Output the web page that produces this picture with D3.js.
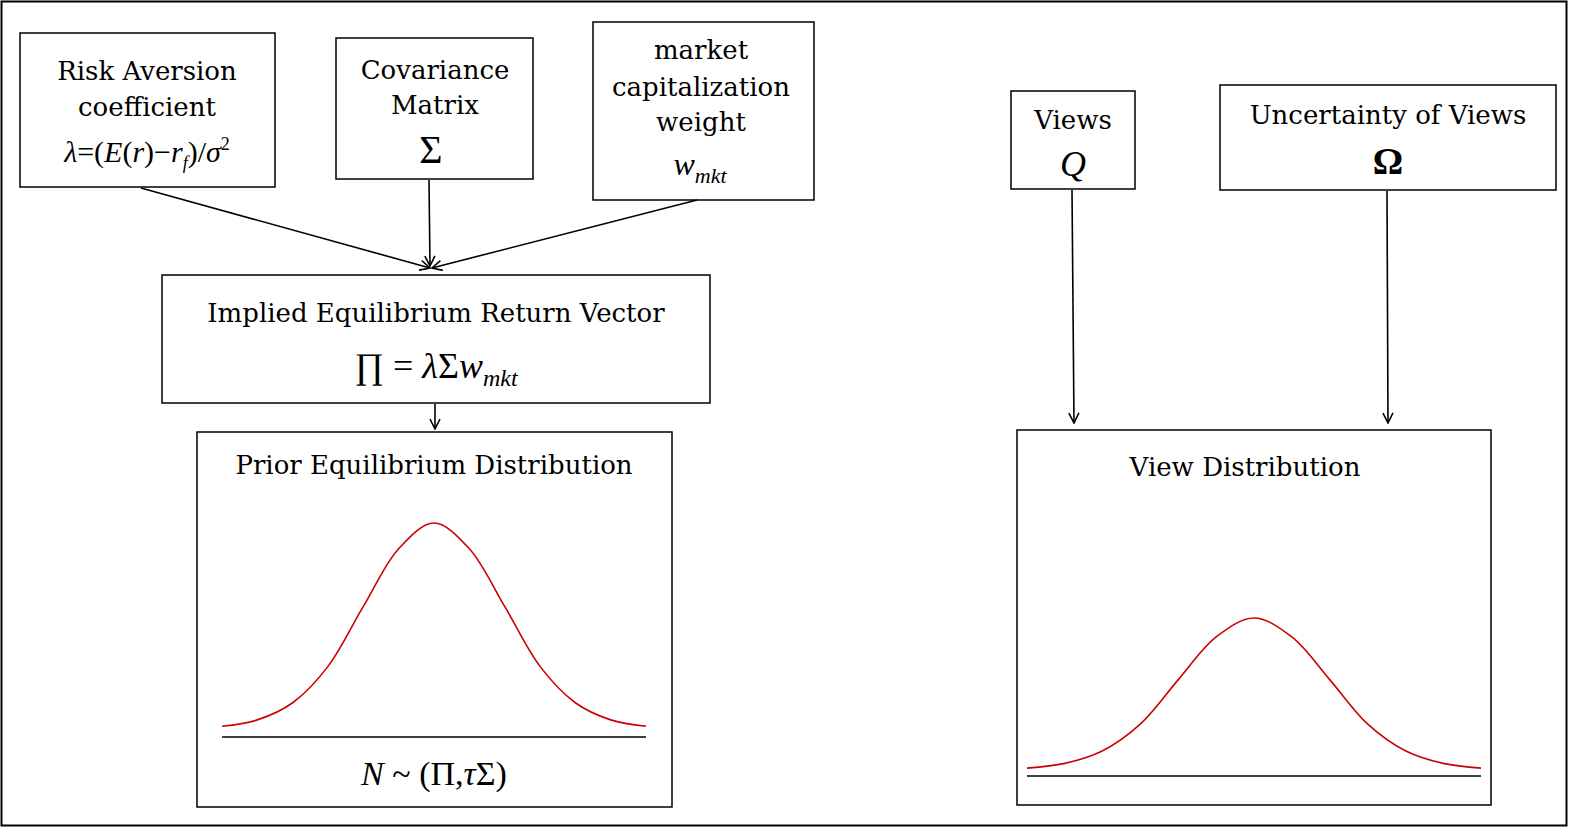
<!DOCTYPE html>
<html><head><meta charset="utf-8">
<script src="https://cdn.jsdelivr.net/npm/d3@7"></script>
<style>body{margin:0;background:#fff}</style>
</head><body>
<svg id="c" width="1573" height="829"></svg>
<script>
// boxes: [x, y, w, h]
const boxes = [
  [20, 33, 255, 154], [336, 38, 197, 141], [593, 22, 221, 178],
  [162, 275, 548, 128], [197, 432, 475, 375],
  [1011, 91, 124, 98], [1220, 85, 336, 105], [1017, 430, 474, 375]
];
const labels = [
  ["Risk Aversion", 147, 80], ["coefficient", 147, 116],
  ["Covariance", 435, 79], ["Matrix", 435, 114],
  ["market", 701, 59], ["capitalization", 701, 96], ["weight", 701, 131],
  ["Implied Equilibrium Return Vector", 436, 322],
  ["Prior Equilibrium Distribution", 434, 474],
  ["Views", 1073, 129], ["Uncertainty of Views", 1388, 124],
  ["View Distribution", 1245, 476]
];
const arrows = [
  [141, 188, 430, 268], [429, 180, 430, 266], [697, 200, 432, 268],
  [435, 404, 435, 429], [1072, 190, 1074, 423], [1387, 191, 1388, 423]
];
// bell shape heights (fraction of peak), read at evenly spaced points
const bell = [0.05, 0.08, 0.16, 0.33, 0.61, 0.88, 1, 0.88, 0.61, 0.33, 0.16, 0.08, 0.05];
// curves: x0, x1, baseline y, peak height, axis x0, x1
const curves = [[222, 646, 737, 214, 222, 646], [1027, 1481, 776, 158, 1027, 1481]];

const svg = d3.select("#c");
svg.append("rect").attr("x", 1.5).attr("y", 1.5).attr("width", 1565).attr("height", 824)
  .attr("fill", "none").attr("stroke", "#000").attr("stroke-width", 2);

svg.selectAll("rect.box").data(boxes).join("rect").attr("class", "box")
  .attr("x", d => d[0]).attr("y", d => d[1]).attr("width", d => d[2]).attr("height", d => d[3])
  .attr("fill", "none").attr("stroke", "#000").attr("stroke-width", 1.5);

svg.selectAll("text.lbl").data(labels).join("text").attr("class", "lbl")
  .attr("x", d => d[1]).attr("y", d => d[2]).attr("text-anchor", "middle")
  .attr("font-family", "DejaVu Serif").attr("font-size", 26).text(d => d[0]);

// arrows
svg.append("defs").append("marker").attr("id", "ah").attr("viewBox", "0 0 12 12")
  .attr("refX", 11).attr("refY", 6).attr("markerWidth", 12).attr("markerHeight", 12)
  .attr("markerUnits", "userSpaceOnUse").attr("orient", "auto")
  .append("path").attr("d", "M1,1L11,6L1,11").attr("fill", "none").attr("stroke", "#000").attr("stroke-width", 1.6);
svg.selectAll("line.ar").data(arrows).join("line").attr("class", "ar")
  .attr("x1", d => d[0]).attr("y1", d => d[1]).attr("x2", d => d[2]).attr("y2", d => d[3])
  .attr("stroke", "#000").attr("stroke-width", 1.6).attr("marker-end", "url(#ah)");

// curves
curves.forEach(c => {
  const x = d3.scaleLinear().domain([0, bell.length - 1]).range([c[0], c[1]]);
  const y = d3.scaleLinear().domain([0, 1]).range([c[2], c[2] - c[3]]);
  svg.append("path").datum(bell).attr("fill", "none").attr("stroke", "#cc0000").attr("stroke-width", 1.6)
    .attr("d", d3.line().x((d, i) => x(i)).y(d => y(d)).curve(d3.curveCatmullRom.alpha(0.5)));
  svg.append("line").attr("x1", c[4]).attr("x2", c[5]).attr("y1", c[2]).attr("y2", c[2])
    .attr("stroke", "#000").attr("stroke-width", 1.6);
});

// math
const m = (x, y, size, anchor) => svg.append("text").attr("x", x).attr("y", y).attr("text-anchor", anchor || "middle")
  .attr("font-family", "Liberation Serif").attr("font-size", size);
let t = m(147, 162, 30);
t.append("tspan").attr("font-style", "italic").text("λ");
t.append("tspan").text("=(");
t.append("tspan").attr("font-style", "italic").text("E");
t.append("tspan").text("(");
t.append("tspan").attr("font-style", "italic").text("r");
t.append("tspan").text(")−");
t.append("tspan").attr("font-style", "italic").text("r");
t.append("tspan").attr("font-style", "italic").attr("font-size", 18).attr("dy", 7).text("f");
t.append("tspan").attr("dy", -7).text(")/");
t.append("tspan").attr("font-style", "italic").text("σ");
t.append("tspan").attr("font-size", 18).attr("dy", -12).text("2");
m(431, 163, 40).text("Σ");
t = m(700, 175, 32);
t.append("tspan").attr("font-style", "italic").text("w");
t.append("tspan").attr("font-style", "italic").attr("font-size", 22).attr("dy", 8).text("mkt");
t = m(436, 378, 36);
t.append("tspan").text("∏ = ");
t.append("tspan").attr("font-style", "italic").text("λ");
t.append("tspan").text("Σ");
t.append("tspan").attr("font-style", "italic").text("w");
t.append("tspan").attr("font-style", "italic").attr("font-size", 24).attr("dy", 8).text("mkt");
t = m(434, 785, 34);
t.append("tspan").attr("font-style", "italic").text("N");
t.append("tspan").text(" ~ (Π,");
t.append("tspan").attr("font-style", "italic").text("τ");
t.append("tspan").text("Σ)");
m(1073, 176, 36).attr("font-style", "italic").text("Q");
m(1388, 174, 38).attr("font-weight", "bold").text("Ω");
</script>
</body></html>
